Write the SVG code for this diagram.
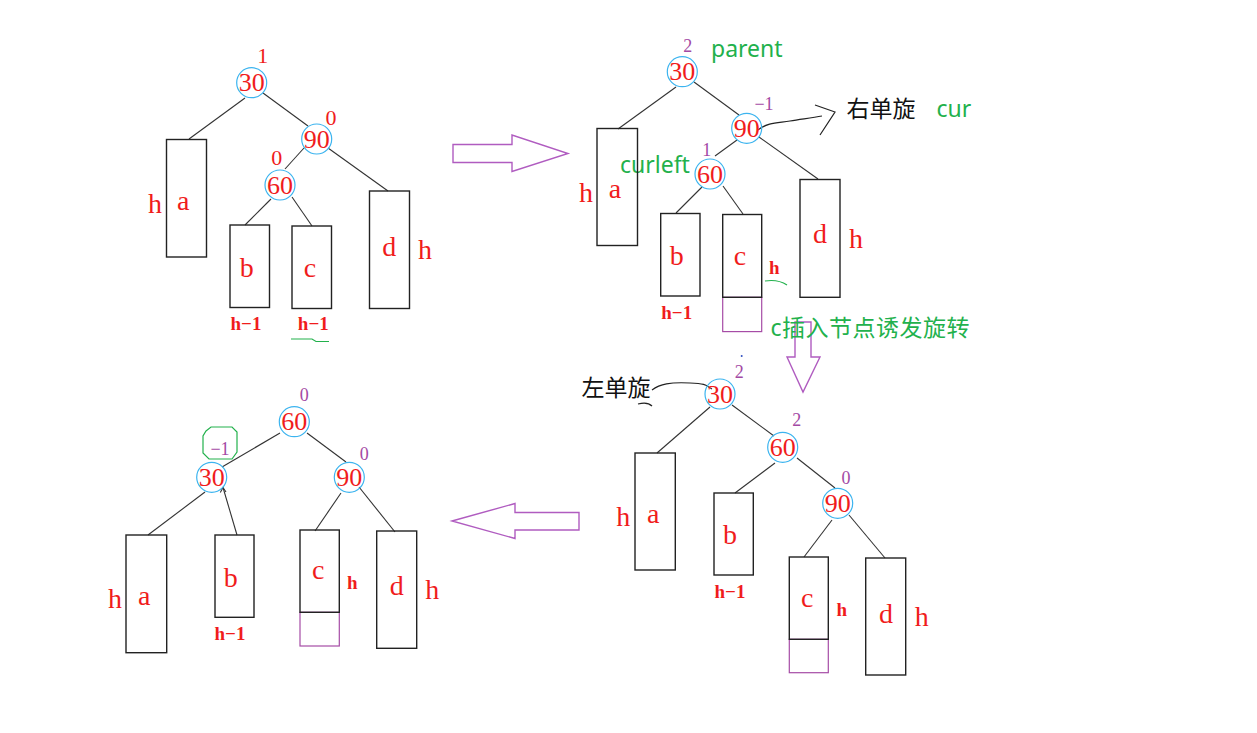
<svg xmlns="http://www.w3.org/2000/svg" width="1257" height="733" viewBox="0 0 1257 733">
<style>
.bg{fill:#fff}
.box{fill:none;stroke:#222;stroke-width:1.4}
.pbox{fill:none;stroke:#a64ca6;stroke-width:1.2}
.ring{fill:none;stroke:#3cb4ef;stroke-width:1.2}
.edge{fill:none;stroke:#333;stroke-width:1.1}
.num{font-family:"Liberation Serif",serif;font-size:26px;fill:#f01c1c;text-anchor:middle}
.lbl{font-family:"Liberation Serif",serif;font-size:28px;fill:#f01c1c;text-anchor:middle}
.sm{font-family:"Liberation Serif",serif;font-size:19px;font-weight:bold;fill:#f01c1c;text-anchor:middle}
.bfr{font-family:"Liberation Serif",serif;font-size:22px;fill:#f01c1c;text-anchor:middle}
.bfp{font-family:"Liberation Serif",serif;font-size:18px;fill:#a349a4;text-anchor:middle}
.grn{font-family:"Noto Sans","Noto Sans CJK SC",sans-serif;font-size:23px;fill:#22b14c}
.blk{font-family:"Noto Sans","Noto Sans CJK SC",sans-serif;font-size:23px;fill:#111}
.big{fill:#fff;stroke:#b05cc0;stroke-width:1.4}
.ink{fill:none;stroke:#222;stroke-width:1.2}
.gink{fill:none;stroke:#22b14c;stroke-width:1.2}
</style>
<rect class="bg" x="0" y="0" width="1257" height="733"/>

<!-- big arrows -->
<g id="arrows">
  <polygon class="big" points="453,144.5 512,144.5 512,135 568,153.5 512,171.5 512,162.5 453,162.5"/>
  <polygon class="big" points="795,322 811,322 811,357 820,357 803,392 787,357 795,357"/>
  <polygon class="big" points="452,521 515,503.5 515,512.5 579,512.5 579,530 515,530 515,538.5"/>
</g>

<!-- connectors -->
<g id="connectors">
  <!-- tree 1 -->
  <line class="edge" x1="245" y1="98" x2="189" y2="139"/>
  <line class="edge" x1="263" y1="93" x2="308" y2="126"/>
  <line class="edge" x1="304" y1="148" x2="285" y2="169"/>
  <line class="edge" x1="328" y1="148" x2="388" y2="191"/>
  <line class="edge" x1="271" y1="199" x2="245" y2="225"/>
  <line class="edge" x1="292" y1="197" x2="312" y2="226"/>
  <!-- tree 2 -->
  <line class="edge" x1="676" y1="87" x2="618" y2="129"/>
  <line class="edge" x1="694" y1="82" x2="739" y2="115"/>
  <line class="edge" x1="737" y1="140" x2="715" y2="156"/>
  <line class="edge" x1="759" y1="137" x2="818" y2="179"/>
  <line class="edge" x1="702" y1="187" x2="676" y2="213"/>
  <line class="edge" x1="723" y1="186" x2="743" y2="214"/>
  <!-- tree 3 -->
  <line class="edge" x1="710" y1="407" x2="657" y2="453"/>
  <line class="edge" x1="732" y1="405" x2="774" y2="436"/>
  <line class="edge" x1="775" y1="463" x2="735" y2="493"/>
  <line class="edge" x1="797" y1="458" x2="835" y2="488"/>
  <line class="edge" x1="832" y1="520" x2="804" y2="557"/>
  <line class="edge" x1="849" y1="515" x2="885" y2="558"/>
  <!-- tree 4 -->
  <line class="edge" x1="280" y1="433" x2="222" y2="467"/>
  <line class="edge" x1="307" y1="433" x2="346" y2="462"/>
  <line class="edge" x1="205" y1="492" x2="148" y2="535"/>
  <line class="edge" x1="237" y1="535" x2="223" y2="487.5"/>
  <polyline class="edge" points="220.3,492.5 223,487.5 226,492"/>
  <line class="edge" x1="341" y1="493" x2="315" y2="531"/>
  <line class="edge" x1="359" y1="487" x2="395" y2="532"/>
  <!-- rotation marks -->
  <path class="ink" d="M758,130 C768,122 778,123 790,121 S812,118 822,116"/>
  <polyline class="ink" points="815,105 835,112 820,135"/>
  <path class="ink" d="M652,390 C660,384 670,382 690,383 S705,386 712,389"/>
  <path class="ink" d="M638,404 C645,402 650,404 652,406"/>
  <!-- green marks -->
  <path class="gink" d="M291,339 L312,339 L316,341.5 L329,341.5"/>
  <path class="gink" d="M765,281 Q778,279 787,285"/>
  <path class="gink" d="M206,431 L211,427 L232,427 L237,432 L237,452 L232,459 L209,459 L203,453 L203,436 Z"/>
</g>

<!-- Tree 1 -->
<g id="t1-n30"><circle class="ring" cx="251.7" cy="82.7" r="15"/><text class="num" x="251.7" y="90.5">30</text><text class="bfr" x="262.7" y="63">1</text></g>
<g id="t1-n90"><circle class="ring" cx="316.7" cy="139" r="15"/><text class="num" x="316.7" y="147.5">90</text><text class="bfr" x="331" y="125">0</text></g>
<g id="t1-n60"><circle class="ring" cx="280" cy="185" r="15"/><text class="num" x="280" y="193.5">60</text><text class="bfr" x="276.7" y="165">0</text></g>
<g id="t1-a"><rect class="box" x="166.5" y="139.5" width="40" height="117.5"/><text class="lbl" x="183.3" y="210">a</text><text class="lbl" x="155" y="213">h</text></g>
<g id="t1-b"><rect class="box" x="230" y="225" width="39.5" height="82.5"/><text class="lbl" x="246.7" y="277">b</text><text class="sm" x="246" y="329.5">h−1</text></g>
<g id="t1-c"><rect class="box" x="292" y="226" width="39.5" height="82.5"/><text class="lbl" x="310" y="277">c</text><text class="sm" x="313.3" y="330">h−1</text></g>
<g id="t1-d"><rect class="box" x="369.5" y="191" width="40" height="117.5"/><text class="lbl" x="389.3" y="256">d</text><text class="lbl" x="425" y="259">h</text></g>

<!-- Tree 2 -->
<g id="t2-n30"><circle class="ring" cx="682.3" cy="71.7" r="15"/><text class="num" x="682.3" y="80">30</text><text class="bfp" x="687.7" y="51.5">2</text><text class="grn" x="711" y="56.5">parent</text></g>
<g id="t2-n90"><circle class="ring" cx="746.7" cy="128.3" r="15"/><text class="num" x="746.7" y="137">90</text><text class="bfp" x="764" y="110">−1</text><text class="blk" x="846.5" y="116.5">右单旋</text><text class="grn" x="936.5" y="116.5">cur</text></g>
<g id="t2-n60"><circle class="ring" cx="710" cy="174" r="15"/><text class="num" x="710" y="182.5">60</text><text class="bfp" x="706.7" y="156">1</text><text class="grn" x="620" y="173">curleft</text></g>
<g id="t2-a"><rect class="box" x="597" y="128.5" width="40.5" height="117"/><text class="lbl" x="615" y="198">a</text><text class="lbl" x="586" y="201.5">h</text></g>
<g id="t2-b"><rect class="box" x="660.7" y="213.5" width="39.3" height="82.5"/><text class="lbl" x="676.7" y="265">b</text><text class="sm" x="676.7" y="318.5">h−1</text></g>
<g id="t2-c"><rect class="pbox" x="722.7" y="297.3" width="39" height="34.3"/><rect class="box" x="722.7" y="214.5" width="39" height="82.8"/><text class="lbl" x="740" y="265">c</text><text class="sm" x="774.3" y="273.5">h</text><text class="grn" x="770.5" y="336" textLength="199" lengthAdjust="spacing">c插入节点诱发旋转</text></g>
<g id="t2-d"><rect class="box" x="800" y="179.5" width="40" height="117.8"/><text class="lbl" x="820" y="243">d</text><text class="lbl" x="856" y="248">h</text></g>

<!-- Tree 3 -->
<g id="t3-n30"><circle class="ring" cx="720" cy="394" r="15"/><text class="num" x="720" y="402.5">30</text><text class="bfp" x="739.3" y="378">2</text><circle cx="741.7" cy="356" r="1" fill="#3050c0"/><text class="blk" x="581.5" y="395.5">左单旋</text></g>
<g id="t3-n60"><circle class="ring" cx="782.7" cy="447.3" r="15"/><text class="num" x="782.7" y="456">60</text><text class="bfp" x="796.7" y="426">2</text></g>
<g id="t3-n90"><circle class="ring" cx="837.7" cy="503.3" r="15"/><text class="num" x="837.7" y="512">90</text><text class="bfp" x="846" y="484">0</text></g>
<g id="t3-a"><rect class="box" x="635" y="453" width="40.3" height="117"/><text class="lbl" x="653.3" y="522.5">a</text><text class="lbl" x="623.3" y="526">h</text></g>
<g id="t3-b"><rect class="box" x="714" y="493" width="39.3" height="82"/><text class="lbl" x="730" y="544">b</text><text class="sm" x="730" y="597.5">h−1</text></g>
<g id="t3-c"><rect class="pbox" x="789.3" y="639.3" width="39" height="33.4"/><rect class="box" x="789.3" y="557" width="39" height="82.3"/><text class="lbl" x="807.3" y="606.5">c</text><text class="sm" x="841.7" y="616">h</text></g>
<g id="t3-d"><rect class="box" x="865.7" y="558" width="40" height="117"/><text class="lbl" x="886" y="622.5">d</text><text class="lbl" x="921.7" y="626">h</text></g>

<!-- Tree 4 -->
<g id="t4-n60"><circle class="ring" cx="294.3" cy="421.7" r="15"/><text class="num" x="294.3" y="430">60</text><text class="bfp" x="304.3" y="400.5">0</text></g>
<g id="t4-n30"><circle class="ring" cx="211.7" cy="477.3" r="15"/><text class="num" x="211.7" y="485.5">30</text><text class="bfp" x="220" y="455">−1</text></g>
<g id="t4-n90"><circle class="ring" cx="349.3" cy="477.3" r="15"/><text class="num" x="349.3" y="485.5">90</text><text class="bfp" x="364.3" y="460">0</text></g>
<g id="t4-a"><rect class="box" x="126" y="535" width="40.7" height="117.7"/><text class="lbl" x="144.3" y="605">a</text><text class="lbl" x="115" y="608">h</text></g>
<g id="t4-b"><rect class="box" x="215" y="535" width="39" height="82.3"/><text class="lbl" x="230.7" y="586.5">b</text><text class="sm" x="230" y="639.5">h−1</text></g>
<g id="t4-c"><rect class="pbox" x="300" y="612.3" width="39.3" height="33.7"/><rect class="box" x="300" y="530" width="39.3" height="82.3"/><text class="lbl" x="318.3" y="579">c</text><text class="sm" x="352.3" y="588.5">h</text></g>
<g id="t4-d"><rect class="box" x="376.7" y="531" width="40" height="117.3"/><text class="lbl" x="396.7" y="595">d</text><text class="lbl" x="432.3" y="599">h</text></g>
</svg>
